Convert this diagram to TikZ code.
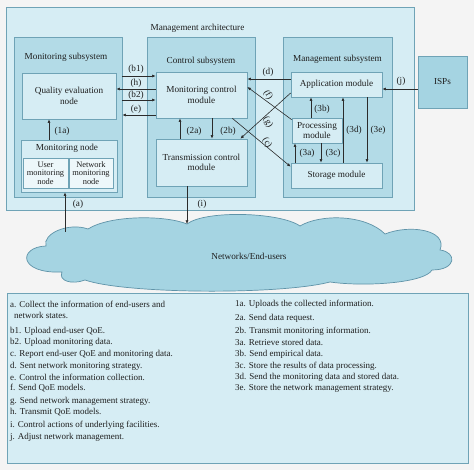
\documentclass[tikz,border=0pt]{standalone}
\usepackage{fontspec}
\setmainfont{Liberation Serif}
\usetikzlibrary{arrows.meta,calc}
\definecolor{bgcol}{HTML}{F4F4F4}
\definecolor{outerfill}{HTML}{D6EDF4}
\definecolor{subfill}{HTML}{B3DBE7}
\definecolor{innerfill}{HTML}{D6EDF4}
\definecolor{edgecol}{HTML}{6FA3B6}
\definecolor{cloudfill}{HTML}{A5D4E2}
\definecolor{cloudedge}{HTML}{5F93A8}
\definecolor{arrowcol}{HTML}{2B2B2B}
\definecolor{txtcol}{HTML}{1E1E1E}
\newcommand{\dfont}{\fontsize{9.2}{10.5}\selectfont}
\newcommand{\sfont}{\fontsize{8.4}{10}\selectfont}
\newcommand{\lfont}{\fontsize{9}{10}\selectfont}
\begin{document}
\begin{tikzpicture}[x=1pt,y=-1pt,
  box/.style={rectangle, draw=edgecol, line width=0.7pt, inner sep=0pt, text=txtcol, font=\dfont, align=center},
  outerbox/.style={box, fill=outerfill},
  subbox/.style={box, fill=subfill},
  inbox/.style={box, fill=innerfill},
  lbl/.style={text=txtcol, font=\dfont, inner sep=0pt},
  leg/.style={text=txtcol, font=\lfont, inner sep=0pt, anchor=west},
  arr/.style={draw=arrowcol, line width=0.6pt, -{Latex[length=3.6pt,width=3pt]}},
]
\useasboundingbox (0,0) rectangle (474,470);
\fill[bgcol] (0,0) rectangle (474,470);

% outer architecture
\node[outerbox, minimum width=408pt, minimum height=203pt] (outer) at (210,108.5) {};
\node[lbl] (outerlbl) at (197.5,28) {Management architecture};

% monitoring subsystem
\node[subbox, minimum width=108pt, minimum height=160pt] (monsub) at (68,117) {};
\node[lbl] (monsublbl) at (66,57) {Monitoring subsystem};
\node[inbox, minimum width=94pt, minimum height=46pt] (qe) at (69,96) {Quality evaluation\\node};
\node[inbox, minimum width=96pt, minimum height=52pt] (mnode) at (69,166) {};
\node[lbl] (mnodelbl) at (67,148) {Monitoring node};
\node[box, fill=white!55!innerfill, font=\sfont, minimum width=45pt, minimum height=30pt] (umn) at (45.5,173) {User\\[-1.5pt]monitoring\\[-1.5pt]node};
\node[box, fill=white!55!innerfill, font=\sfont, minimum width=44pt, minimum height=30pt] (nmn) at (91,173) {Network\\[-1.5pt]monitoring\\[-1.5pt]node};

% control subsystem
\node[subbox, minimum width=108pt, minimum height=160pt] (ctrlsub) at (201,117) {};
\node[lbl] (ctrlsublbl) at (201,61) {Control subsystem};
\node[inbox, minimum width=91pt, minimum height=46pt] (mcm) at (201.5,95) {Monitoring control\\module};
\node[inbox, minimum width=91pt, minimum height=47pt] (tcm) at (201.5,162.5) {Transmission control\\module};

% management subsystem
\node[subbox, minimum width=109pt, minimum height=160pt] (mgsub) at (337.5,117) {};
\node[lbl] (mgsublbl) at (337.5,59) {Management subsystem};
\node[inbox, minimum width=91pt, minimum height=25pt] (app) at (336.5,84.5) {Application module};
\node[inbox, minimum width=50pt, minimum height=25pt] (proc) at (317,130.5) {Processing\\[-1pt]module};
\node[inbox, minimum width=91pt, minimum height=25pt] (stor) at (336.5,175.5) {Storage module};

% ISPs
\node[box, fill=cloudfill, minimum width=49pt, minimum height=52pt] (isps) at (442.5,82) {ISPs};

% cloud
\draw[draw=cloudedge, fill=cloudfill, line width=0.7pt]
  (62,272) .. controls (18,274) and (18,247) .. (46,246)
  .. controls (42,234) and (68,222) .. (88,229)
  .. controls (110,215) and (165,215) .. (187,224)
  .. controls (205,210) and (280,212) .. (300,226)
  .. controls (320,214) and (365,214) .. (385,234)
  .. controls (410,224) and (448,230) .. (440,250)
  .. controls (457,252) and (457,270) .. (432,270)
  .. controls (425,283) and (365,287) .. (330,282)
  .. controls (280,295) and (125,294) .. (85,280)
  .. controls (72,285) and (58,281) .. (62,272) -- cycle;
\node[lbl] (cloudlbl) at (249,256) {Networks/End-users};
\coordinate (cA) at (65,232);
\coordinate (cI) at (187,224);

% y levels
\coordinate (yb1) at (0,76);
\coordinate (yh) at (0,89);
\coordinate (yb2) at (0,100);
\coordinate (ye) at (0,115);
\coordinate (yd) at (0,79);
\coordinate (yj) at (0,89);
\coordinate (yf) at (0,87);
\coordinate (yg) at (0,93);
\coordinate (x1a) at (49,0);
\coordinate (x2a) at (180,0);
\coordinate (x2b) at (212,0);
\coordinate (x3a) at (295,0);
\coordinate (x3b) at (311,0);
\coordinate (x3c) at (321,0);
\coordinate (x3d) at (343,0);
\coordinate (x3e) at (367,0);
\coordinate (xa) at (65,0);
\coordinate (xi) at (187,0);

% monitoring <-> control
\draw[arr] (monsub.east |- yb1) -- (mcm.west |- yb1);
\draw[arr] (mcm.west |- yh) -- (qe.east |- yh);
\draw[arr] (monsub.east |- yb2) -- (mcm.west |- yb2);
\draw[arr] (mcm.west |- ye) -- (monsub.east |- ye);
\node[lbl] (lb1) at (136,69) {(b1)};
\node[lbl] (lh) at (136,83) {(h)};
\node[lbl] (lb2) at (136,95) {(b2)};
\node[lbl] (le) at (136,109) {(e)};

% 1a
\draw[arr] (mnode.north -| x1a) -- (qe.south -| x1a);
\node[lbl] (l1a) at (62,131) {(1a)};

% 2a 2b
\draw[arr] (tcm.north -| x2a) -- (mcm.south -| x2a);
\draw[arr] (mcm.south -| x2b) -- (tcm.north -| x2b);
\node[lbl] (l2a) at (194,131) {(2a)};
\node[lbl] (l2b) at (228,131) {(2b)};

% d, j
\draw[arr] (app.west |- yd) -- (mcm.east |- yd);
\node[lbl] (ld) at (268,72) {(d)};
\draw[arr] (isps.west |- yj) -- (app.east |- yj);
\node[lbl] (lj) at (401,81) {(j)};

% f, g, c
\draw[arr] ([yshift=-2pt]proc.north west) -- (mcm.east |- yf);
\draw[arr] (app.west |- yg) -- ([xshift=-7pt]tcm.north east);
\draw[arr] ([xshift=-15pt]mcm.south east) -- ([yshift=-4pt]stor.north west);
\node[lbl, rotate=-60] (lf) at (268,95) {(f)};
\node[lbl, rotate=-60] (lg) at (268,122) {(g)};
\node[lbl, rotate=-60] (lc) at (267,143) {(c)};

% management internal
\draw[arr] (proc.north -| x3b) -- (app.south -| x3b);
\draw[arr] (stor.north -| x3a) -- (proc.south -| x3a);
\draw[arr] (proc.south -| x3c) -- (stor.north -| x3c);
\draw[arr] (stor.north -| x3d) -- (app.south -| x3d);
\draw[arr] (app.south -| x3e) -- (stor.north -| x3e);
\node[lbl] (l3b) at (322,109) {(3b)};
\node[lbl] (l3a) at (307,153) {(3a)};
\node[lbl] (l3c) at (333,153) {(3c)};
\node[lbl] (l3d) at (354,130) {(3d)};
\node[lbl] (l3e) at (378,130) {(3e)};

% a, i
\draw[arr] (cA) -- (mnode.south -| xa);
\node[lbl] (la) at (78,204) {(a)};
\draw[arr] (tcm.south -| xi) -- (cI);
\node[lbl] (li) at (202,204) {(i)};

% legend
\node[outerbox, minimum width=461pt, minimum height=170pt] (legend) at (237.5,378) {};
\node[leg] (t1) at (10,304) {a. Collect the information of end-users and};
\node[leg] (t2) at (14,315) {network states.};
\node[leg] (t3) at (10,331) {b1. Upload end-user QoE.};
\node[leg] (t4) at (10,342) {b2. Upload monitoring data.};
\node[leg] (t5) at (10,354) {c. Report end-user QoE and monitoring data.};
\node[leg] (t6) at (10,366) {d. Sent network monitoring strategy.};
\node[leg] (t7) at (10,377) {e. Control the information collection.};
\node[leg] (t8) at (10,388) {f. Send QoE models.};
\node[leg] (t9) at (10,401) {g. Send network management strategy.};
\node[leg] (t10) at (10,412) {h. Transmit QoE models.};
\node[leg] (t11) at (10,425) {i. Control actions of underlying facilities.};
\node[leg] (t12) at (10,437) {j. Adjust network management.};
\node[leg] (r1) at (235,304) {1a. Uploads the collected information.};
\node[leg] (r2) at (235,318) {2a. Send data request.};
\node[leg] (r3) at (235,331) {2b. Transmit monitoring information.};
\node[leg] (r4) at (235,342) {3a. Retrieve stored data.};
\node[leg] (r5) at (235,354) {3b. Send empirical data.};
\node[leg] (r6) at (235,366) {3c. Store the results of data processing.};
\node[leg] (r7) at (235,377) {3d. Send the monitoring data and stored data.};
\node[leg] (r8) at (235,388) {3e. Store the network management strategy.};
\end{tikzpicture}
\end{document}
